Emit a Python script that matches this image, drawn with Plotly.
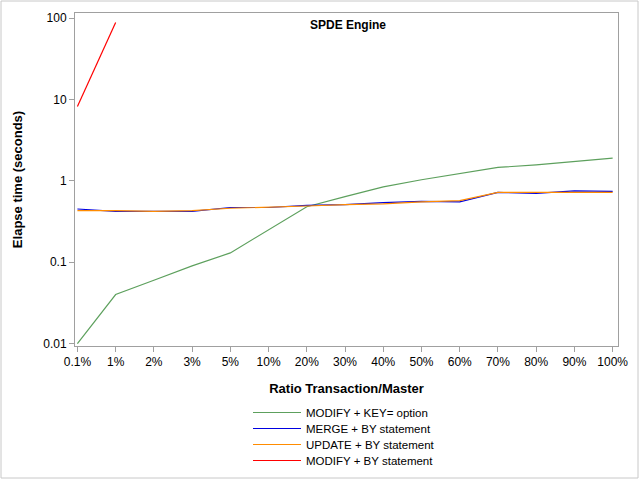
import plotly.graph_objects as go

ratios = ["0.1%", "1%", "2%", "3%", "5%", "10%", "20%", "30%", "40%", "50%",
          "60%", "70%", "80%", "90%", "100%"]

modify_key = [0.01, 0.04, 0.06, 0.09, 0.13, 0.25, 0.48, 0.64, 0.84, 1.03,
              1.22, 1.46, 1.57, 1.72, 1.9]
merge_by = [0.45, 0.42, 0.42, 0.42, 0.47, 0.47, 0.50, 0.51, 0.54, 0.56,
            0.55, 0.72, 0.70, 0.75, 0.74]
update_by = [0.43, 0.43, 0.42, 0.43, 0.46, 0.47, 0.49, 0.51, 0.52, 0.55,
             0.57, 0.72, 0.72, 0.72, 0.72]
modify_by = [8.2, 88]

series = [
    ("MODIFY + KEY= option", modify_key, "#5DA05D"),
    ("MERGE + BY statement", merge_by, "#0000E0"),
    ("UPDATE + BY statement", update_by, "#FF8C00"),
    ("MODIFY + BY statement", modify_by, "#FF0000"),
]

# plot area in pixels: x 75..618, y 13..346
L, T, W, H = 75, 13, 543, 333

fig = go.Figure()
legends = {}
for i, (name, vals, col) in enumerate(series):
    # one legend per row so the rows can sit 16px apart like the original
    key = "legend" if i == 0 else "legend%d" % (i + 1)
    fig.add_trace(go.Scatter(x=list(range(len(vals))), y=vals, name=name, mode="lines",
                             line=dict(color=col, width=1.2), legend=key))
    legends[key] = dict(x=(248 - L) / W, y=-(398 + 16 * i - T - H) / H,
                        xanchor="left", yanchor="top",
                        font=dict(size=11.5, color="black"), itemwidth=48,
                        bgcolor="rgba(0,0,0,0)")

fig.update_layout(
    width=640, height=480,
    margin=dict(l=L, r=640 - L - W, t=T, b=480 - T - H, autoexpand=False),
    paper_bgcolor="white", plot_bgcolor="white",
    font=dict(family="Liberation Sans, Arial", size=12, color="black"),
    showlegend=True,
    **legends,
)

fig.update_xaxes(
    tickmode="array", tickvals=list(range(len(ratios))), ticktext=ratios,
    range=[-0.063, 14.14], showgrid=False, zeroline=False,
    showline=True, mirror=True, linecolor="#A0A0A0", linewidth=1,
    ticks="outside", ticklen=5, tickcolor="#A0A0A0",
    title=dict(text="<b>Ratio Transaction/Master</b>", font=dict(size=13), standoff=15),
)
fig.update_yaxes(
    type="log", range=[-2.03, 2.062],
    tickmode="array", tickvals=[0.01, 0.1, 1, 10, 100],
    ticktext=["0.01", "0.1", "1", "10", "100"],
    showgrid=False, zeroline=False,
    showline=True, mirror=True, linecolor="#A0A0A0", linewidth=1,
    ticks="outside", ticklen=5, tickcolor="#A0A0A0",
    title=dict(text="<b>Elapse time (seconds)</b>", font=dict(size=13), standoff=17),
)

fig.add_annotation(text="<b>SPDE Engine</b>", xref="paper", yref="paper",
                   x=(348 - L) / W, y=(T + H - 25) / H, xanchor="center", yanchor="middle",
                   showarrow=False, font=dict(size=12))

# outer frame around the whole picture
fig.add_shape(type="rect", xref="paper", yref="paper",
              x0=(1 - L) / W, x1=(638 - L) / W,
              y0=-(478 - T - H) / H, y1=(T + H - 1) / H,
              line=dict(color="#C8C8C8", width=1))

# the page body has a default margin; drop it so the figure sits at 0,0
fig.write_html("out.html", config={"displayModeBar": False},
               post_script="document.body.style.margin='0';")
